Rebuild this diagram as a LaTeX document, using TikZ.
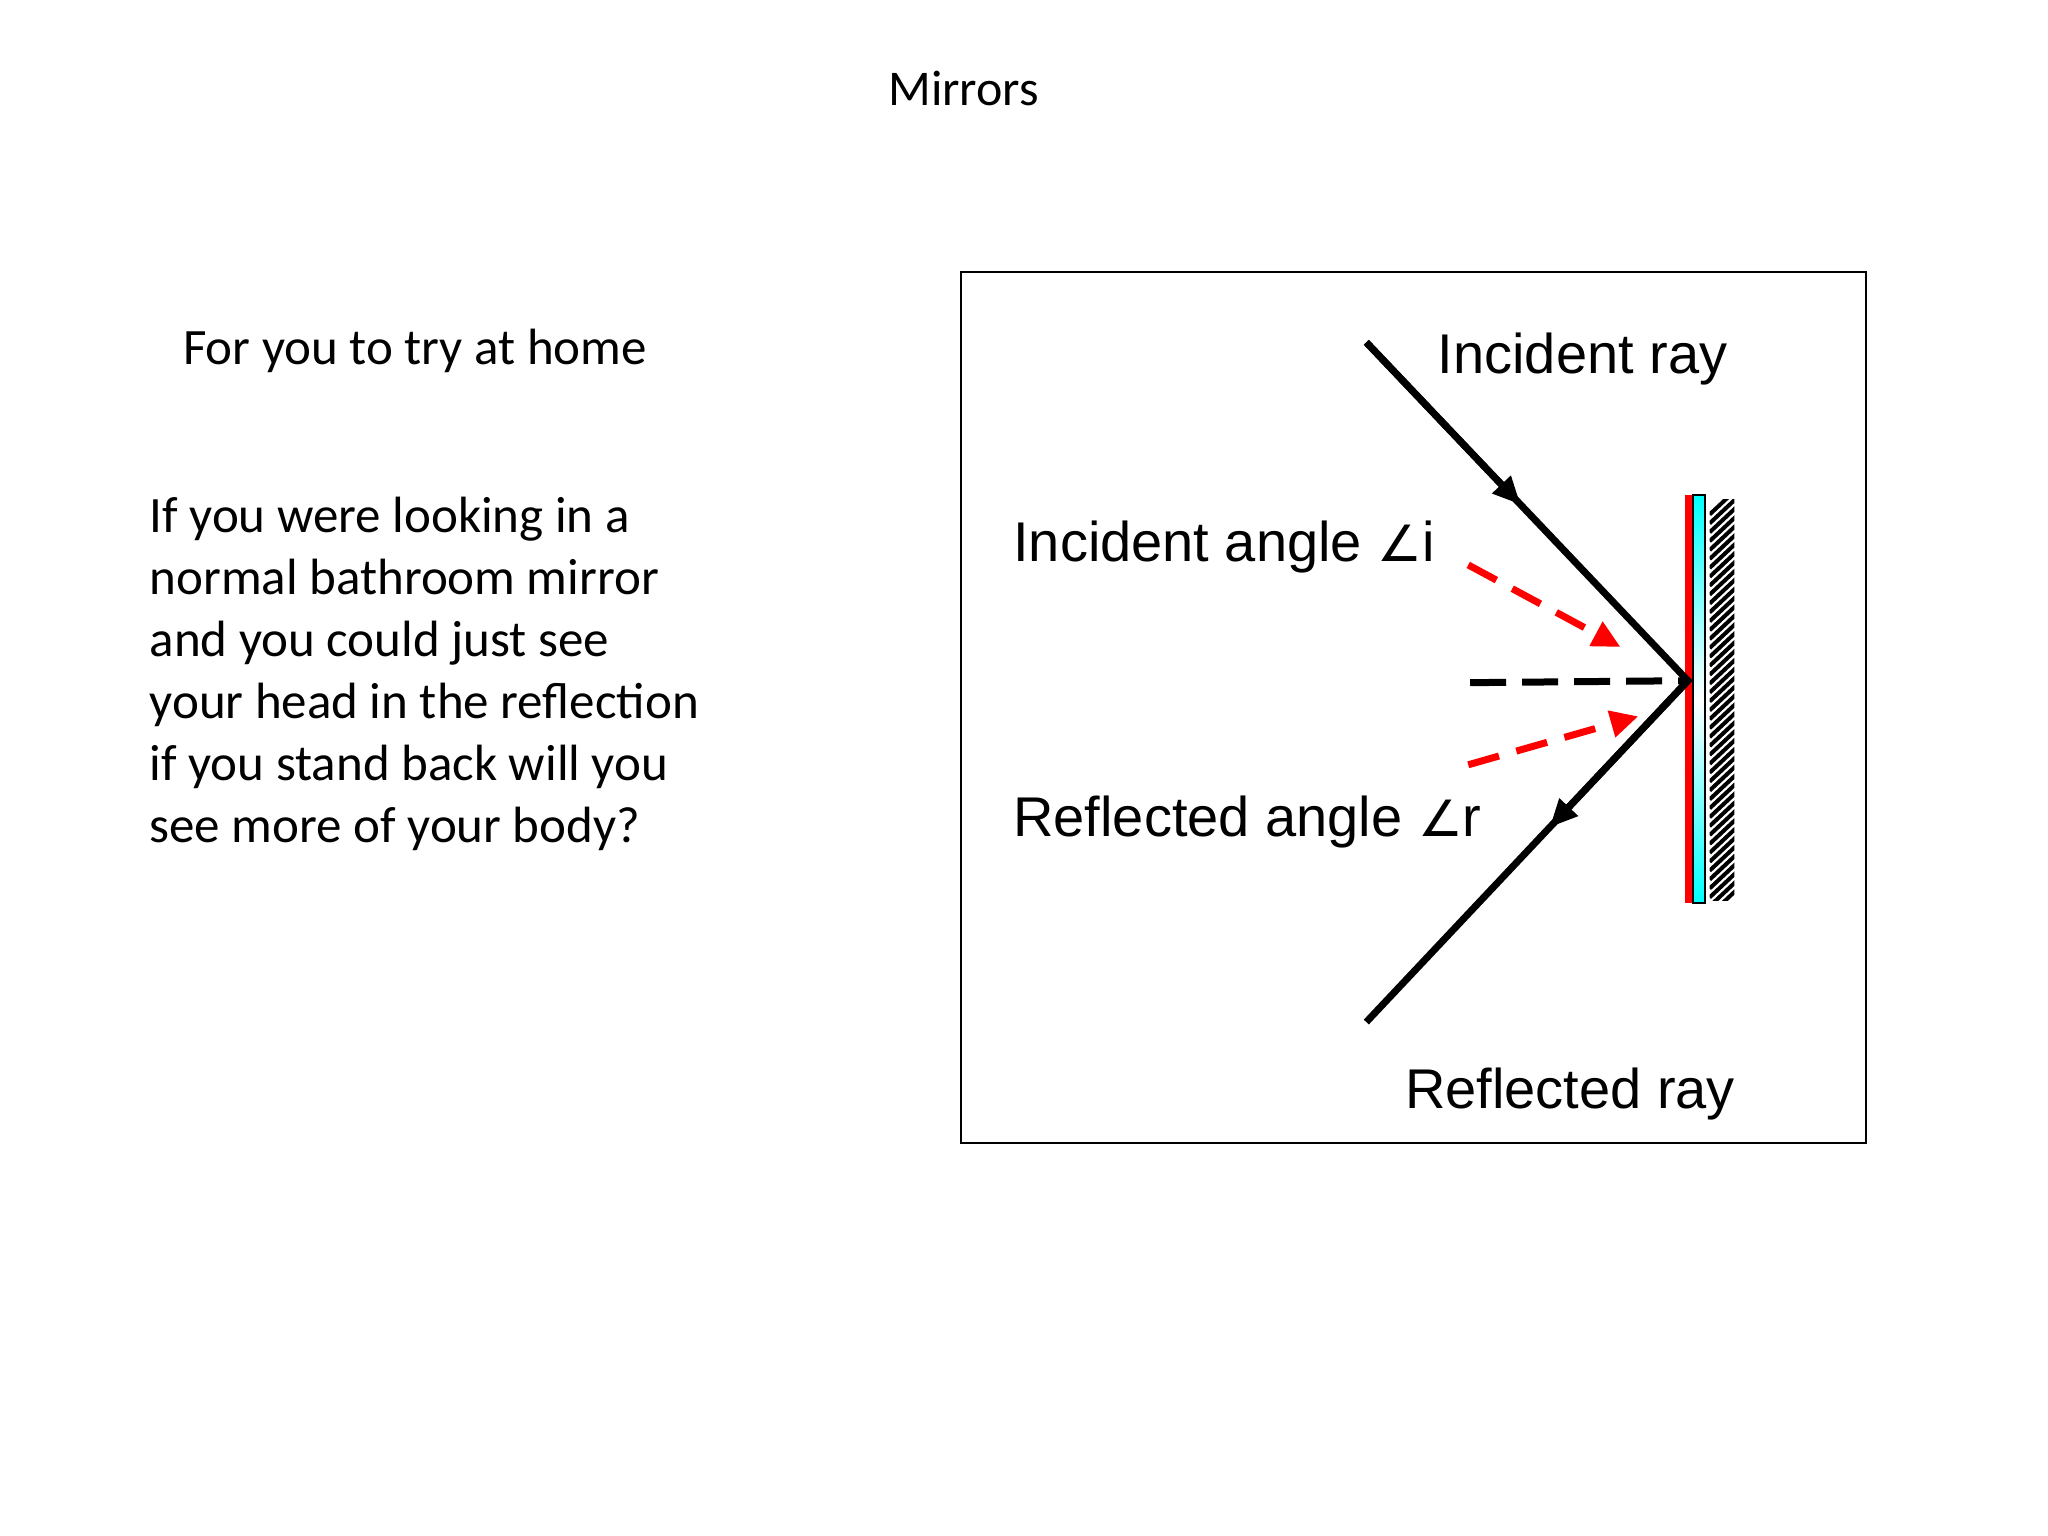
\documentclass[tikz,border=0pt]{standalone}
\usepackage{fontspec}
\setmainfont{Carlito}
\newfontfamily\arial{Liberation Sans}
\newfontfamily\djv{DejaVu Sans}
\usetikzlibrary{arrows.meta,calc}
\begin{document}
\begin{tikzpicture}[x=0.9894pt,y=-0.9894pt,
  ray/.style={line width=7pt},
  arr/.style={-{Triangle[length=28pt,width=24pt]}},
  lbl/.style={anchor=base west,inner sep=0,font=\arial\fontsize{56}{60}\selectfont},
  redarr/.style={red,line width=7pt,dash pattern=on 32pt off 18pt,-{Triangle[length=28pt,width=26pt]}}]
\useasboundingbox (0,0) rectangle (2070,1552);
\fill[white] (0,0) rectangle (2070,1552);
\node[anchor=base,inner sep=0,font=\fontsize{50}{56}\selectfont] (title) at (974,107) {Mirrors};
\node[anchor=base west,inner sep=0,font=\fontsize{51}{56}\selectfont] (try) at (185,368) {For you to try at home};
\node[anchor=north west,inner sep=0,align=left,font=\fontsize{51}{62}\selectfont] (para) at (151,502) {If you were looking in a\\normal bathroom mirror\\and you could just see\\your head in the reflection\\if you stand back will you\\see more of your body?};
\draw[line width=2pt] (971,275) rectangle (1886,1155);
% mirror
\fill[red] (1703,500) rectangle (1711,913);
\shade[top color=cyan,bottom color=cyan,middle color=white] (1711,500) rectangle (1723,913);
\draw[line width=2pt] (1711,500) rectangle (1723,913);
\begin{scope}
\clip (1728,505) rectangle (1753,910);
\foreach \k in {0,...,45} {\draw[line width=4pt] (1728,520+9*\k) -- (1760,490+9*\k);}
\end{scope}
\coordinate (P) at (1706,688);
\coordinate (A) at (1381,346);
\coordinate (B) at (1381,1033);
\draw[ray] (A) -- (P) -- (B);
\draw[ray,arr] (A) -- ($(A)!0.48!(P)$);
\draw[ray,arr] (P) -- ($(P)!0.43!(B)$);
\draw[ray,dash pattern=on 36pt off 16pt] (1486,690) -- (P);
\draw[redarr] (1484,571) -- (1638,654);
\draw[redarr] (1484,773) -- (1656,724);
\node[lbl] (ir) at (1453,378) {Incident ray};
\node[lbl] (ia) at (1024,568) {Incident angle {\djv\fontsize{50}{60}\selectfont∠}i};
\node[lbl] (ra) at (1024,845) {Reflected angle {\djv\fontsize{50}{60}\selectfont∠}r};
\node[lbl] (rr) at (1420,1120) {Reflected ray};
\end{tikzpicture}
\end{document}
